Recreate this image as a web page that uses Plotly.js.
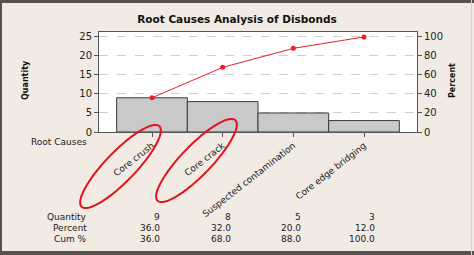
<!DOCTYPE html>
<html><head><meta charset="utf-8">
<script src="https://cdn.plot.ly/plotly-3.0.1.min.js"></script>
<style>
html,body{margin:0;padding:0;background:#f1ebe3;}
#wrap{position:relative;width:474px;height:255px;overflow:hidden;}
#chart{position:absolute;left:0;top:0;width:474px;height:255px;}
.bd{position:absolute;background:#57524d;}
</style></head>
<body><div id="wrap"><div id="chart"></div>
<div class="bd" style="left:0;top:0;width:474px;height:3px;"></div>
<div class="bd" style="left:0;top:0;width:2px;height:255px;"></div>
<div class="bd" style="left:0;top:251px;width:474px;height:4px;"></div>
<div class="bd" style="left:471px;top:0;width:1px;height:255px;background:#d9d2c8;"></div>
</div>
<script>
const categories = ["Core crush", "Core crack", "Suspected contamination", "Core edge bridging"];
const quantity = [9, 8, 5, 3];
const percent = [36.0, 32.0, 20.0, 12.0];
const cumPercent = [36.0, 68.0, 88.0, 100.0];
const rowLabels = ["Quantity", "Percent", "Cum %"];
const titleText = "Root Causes Analysis of Disbonds";
const leftTitle = "Quantity";
const rightTitle = "Percent";

const FONT = "DejaVu Sans, Verdana, sans-serif";
const L = 99, T = 32, W = 318, H = 100;
function px2paperX(px){ return (px - L) / W; }
function px2paperY(py){ return (T + H - py) / H; }
function ellipse(cx, cy, a, b, angDeg){
  const th = angDeg * Math.PI / 180;
  let d = "";
  for (let i = 0; i <= 60; i++){
    const t = i / 60 * 2 * Math.PI;
    const ex = a * Math.cos(t), ey = b * Math.sin(t);
    const x = cx + ex * Math.cos(th) - ey * Math.sin(th);
    const y = cy + ex * Math.sin(th) + ey * Math.cos(th);
    d += (i === 0 ? "M" : "L") + px2paperX(x).toFixed(4) + "," + px2paperY(y).toFixed(4);
  }
  return d + "Z";
}

const bars = {
  type: "bar", x: categories, y: quantity, width: 1,
  marker: {color: "#c9c9c9", line: {color: "#3a3a3a", width: 1}},
  hoverinfo: "skip"
};
const line = {
  type: "scatter", mode: "lines+markers", x: categories, y: cumPercent, yaxis: "y2",
  line: {color: "#e8202a", width: 1}, marker: {color: "#e8202a", size: 5},
  hoverinfo: "skip"
};

const annotations = [];
const rowData = [quantity.map(String), percent.map(v => v.toFixed(1)), cumPercent.map(v => v.toFixed(1))];
const rowY = [217, 228, 239];
rowLabels.forEach((lab, r) => {
  annotations.push({xref: "paper", yref: "paper", x: px2paperX(89), y: px2paperY(rowY[r]),
    xanchor: "right", yanchor: "middle", text: lab, showarrow: false,
    font: {family: FONT, size: 9, color: "#222"}});
  rowData[r].forEach((v, i) => {
    annotations.push({xref: "x", yref: "paper", x: categories[i], y: px2paperY(rowY[r]),
      xanchor: "right", yanchor: "middle", xshift: 10 + (i === 3 ? 3 : 0), text: v, showarrow: false,
      font: {family: FONT, size: 9, color: "#222"}});
  });
});
annotations.push({xref: "paper", yref: "paper", x: px2paperX(89), y: px2paperY(142),
  xanchor: "right", yanchor: "middle", text: "Root Causes", showarrow: false,
  font: {family: FONT, size: 9, color: "#222"}});
annotations.push({xref: "paper", yref: "paper", x: px2paperX(25), y: px2paperY(80),
  xanchor: "center", yanchor: "middle", textangle: -90, text: "<b>" + leftTitle + "</b>", showarrow: false,
  font: {family: FONT, size: 8, color: "#111"}});
annotations.push({xref: "paper", yref: "paper", x: px2paperX(452), y: px2paperY(81),
  xanchor: "center", yanchor: "middle", textangle: -90, text: "<b>" + rightTitle + "</b>", showarrow: false,
  font: {family: FONT, size: 8, color: "#111"}});

const layout = {
  width: 474, height: 255,
  margin: {l: L, r: 474 - L - W, t: T, b: 255 - T - H, pad: 0},
  paper_bgcolor: "#f1ebe3", plot_bgcolor: "#ffffff",
  showlegend: false, bargap: 0,
  title: {text: "<b>" + titleText + "</b>", x: 0.5, xanchor: "center", y: 1 - 19/255, yanchor: "middle",
    font: {family: FONT, size: 10.5, color: "#111"}},
  font: {family: FONT, color: "#222"},
  xaxis: {type: "category", range: [-0.75, 3.75], showline: true, linecolor: "#555", linewidth: 1, mirror: true,
    ticks: "outside", ticklen: 4, tickcolor: "#555", tickangle: -38,
    tickfont: {family: FONT, size: 9, color: "#222"}, showgrid: false, zeroline: false, fixedrange: true},
  yaxis: {range: [0, 26.3], dtick: 5, showline: true, linecolor: "#555", linewidth: 1,
    ticks: "outside", ticklen: 4, tickcolor: "#555",
    tickfont: {family: FONT, size: 10, color: "#222"},
    showgrid: true, gridcolor: "#cfcfcf", griddash: "dash", gridwidth: 1, zeroline: false},
  yaxis2: {overlaying: "y", side: "right", range: [0, 105.2], dtick: 20, showline: true, linecolor: "#555", linewidth: 1,
    ticks: "outside", ticklen: 4, tickcolor: "#555",
    tickfont: {family: FONT, size: 10, color: "#222"}, showgrid: false, zeroline: false},
  shapes: [
    {type: "path", xref: "paper", yref: "paper", path: ellipse(120.5, 166.5, 56, 15, -46), line: {color: "#e0141e", width: 2}},
    {type: "path", xref: "paper", yref: "paper", path: ellipse(196.5, 160.5, 56, 15, -46), line: {color: "#e0141e", width: 2}}
  ],
  annotations: annotations
};
Plotly.newPlot("chart", [bars, line], layout, {staticPlot: true, displayModeBar: false});
</script></body></html>
